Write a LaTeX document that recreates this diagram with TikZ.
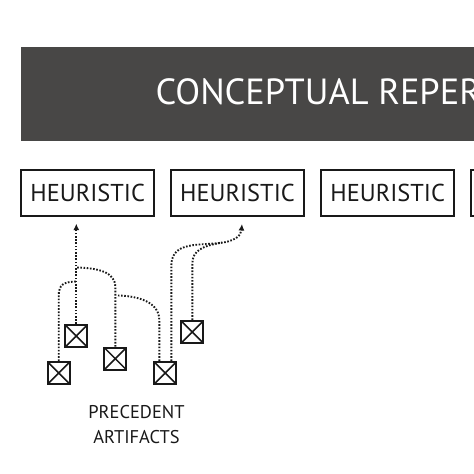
\documentclass[tikz,border=0pt]{standalone}
\usepackage{fontspec}
\setmainfont{PT Sans}
\usetikzlibrary{arrows.meta}

\definecolor{bannergray}{RGB}{72,71,70}
\definecolor{inkgray}{RGB}{25,25,25}

\tikzset{
	heuristic/.style={draw=inkgray, line width=1.6bp, minimum width=133bp, minimum height=46bp,
		inner sep=0pt, text=inkgray, font=\fontsize{24.5}{28}\selectfont},
	artifact/.style={draw=inkgray, line width=2bp, minimum size=22bp, inner sep=0pt,
		path picture={\draw[inkgray, line width=1.5bp]
			(path picture bounding box.north west) -- (path picture bounding box.south east)
			(path picture bounding box.north east) -- (path picture bounding box.south west);}},
	trace/.style={draw=inkgray, line width=1.9bp, dash pattern=on 1.6bp off 1.6bp},
	tip/.style={-{Latex[length=6.5bp,width=6bp]}, shorten >=7bp}
}

\begin{document}
\begin{tikzpicture}[x=1bp, y=-1bp]

	% Canvas
	\useasboundingbox (0,0) rectangle (474,474);
	\clip (0,0) rectangle (474,474);

	% Banner
	\fill[bannergray] (20.5,47) rectangle (520,141.5);
	\node[anchor=base west, text=white, font=\fontsize{36.5}{42}\selectfont] (repertoire)
		at (152,105) {CONCEPTUAL REPERTOIRE};

	% Heuristics
	\node[heuristic] (h1) at (87.7,192.8) {HEURISTIC};
	\node[heuristic] (h2) at (237.5,192.8) {HEURISTIC};
	\node[heuristic] (h3) at (387.7,192.8) {HEURISTIC};
	\node[heuristic] (h4) at (537.7,192.8) {};

	% Precedent artifacts
	\node[artifact] (a1) at (58.7,373) {};
	\node[artifact] (a2) at (76.3,336) {};
	\node[artifact] (a3) at (115.3,358.7) {};
	\node[artifact] (a4) at (165.3,373) {};
	\node[artifact] (a5) at (192.3,332) {};
	\node[anchor=base, align=center, text=inkgray, font=\fontsize{18.5}{25}\selectfont] (precedent)
		at (136.5,443) {PRECEDENT\\ARTIFACTS};

	% Merge points
	\coordinate (m1) at (76.3,281.5);
	\coordinate (m2) at (76.3,267.5);
	\coordinate (m3) at (118,295.5);
	\coordinate (m4) at (222,242.5);
	\coordinate (a4l) at ([xshift=-6bp]a4.north);
	\coordinate (a4r) at ([xshift=6bp]a4.north);

	% Traces into the first heuristic
	\draw[trace, tip] (a2.north) -- (a2.north |- h1.south);
	\draw[trace] (a1.north) -- (58.7,296) .. controls (58.7,284) and (64,282) .. (m1);
	\draw[trace] (a3.north) -- (115.3,287) .. controls (115.3,272) and (98,268) .. (m2);
	\draw[trace] (a4l) -- (159.3,320) .. controls (159.3,302) and (138,296) .. (m3);

	% Traces into the second heuristic
	\draw[trace, -{Latex[length=6.5bp,width=6bp]}] (a4r) -- (171.3,266)
		.. controls (171.3,244) and (192,245) .. (215,243.5)
		.. controls (235,242) and (241,236) .. (242,224);
	\draw[trace] (a5.north) -- (192.3,264) .. controls (192.3,250) and (203,246) .. (m4);

\end{tikzpicture}
\end{document}
